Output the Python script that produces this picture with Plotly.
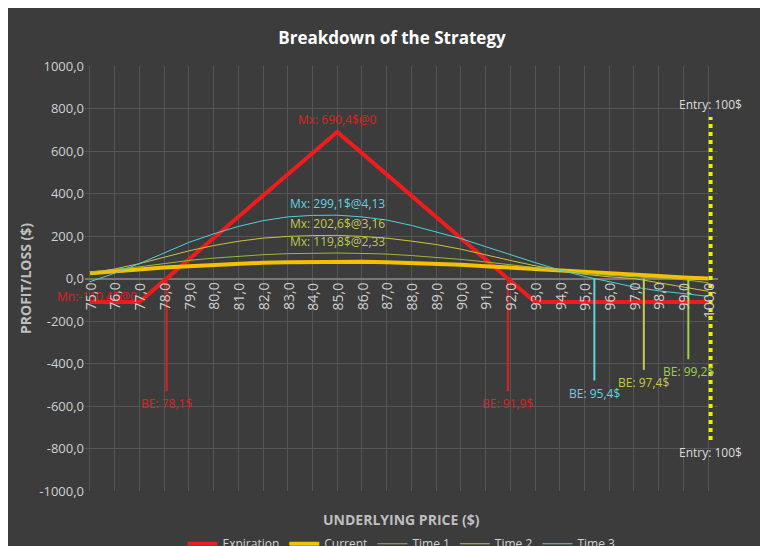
import plotly.graph_objects as go

prices = list(range(75, 101))
expiration = [-110, -110, -110, -10, 90, 190, 290, 390, 490, 590, 690, 590, 490, 390, 290, 190, 90, -10,
              -110, -110, -110, -110, -110, -110, -110, -110]
current = [25, 35, 45, 52, 58, 64, 70, 74, 77, 79, 80, 79, 77, 74, 70, 65, 58, 52, 45, 38, 32, 25, 18, 12, 5, 0]
time1 = [30, 42, 55, 70, 85, 96, 105, 112, 117, 119, 120, 118, 115, 108, 100, 90, 78, 65, 50, 38, 25, 15, 8, 2, -5, -20]
time2 = [25, 45, 70, 100, 130, 155, 175, 190, 198, 202, 203, 198, 190, 176, 160, 138, 110, 85, 60, 40, 20, 8, 0, -20, -40, -60]
time3 = [-15, 25, 70, 120, 170, 210, 245, 272, 290, 297, 298, 290, 275, 250, 220, 188, 150, 112, 75, 40, 10, -15, -40, -58, -72, -84]

be_x = [78.1, 91.9, 95.4, 97.4, 99.2]
be_low = [-530, -530, -480, -430, -380]
be_color = ['#e02020', '#e02020', '#5fd4e0', '#c8c850', '#9ad24a']
be_text = ['BE: 78,1$', 'BE: 91,9$', 'BE: 95,4$', 'BE: 97,4$', 'BE: 99,2$']

y_ticks = [-1000, -800, -600, -400, -200, 0, 200, 400, 600, 800, 1000]

fig = go.Figure()
fig.add_trace(go.Scatter(x=prices, y=expiration, name='Expiration', mode='lines', line=dict(color='#ee1c1c', width=4)))
fig.add_trace(go.Scatter(x=prices, y=current, name='Current', mode='lines', line=dict(color='#f5c000', width=4)))
fig.add_trace(go.Scatter(x=prices, y=time1, name='Time 1', mode='lines', line=dict(color='#9ab83a', width=1)))
fig.add_trace(go.Scatter(x=prices, y=time2, name='Time 2', mode='lines', line=dict(color='#c8c43a', width=1)))
fig.add_trace(go.Scatter(x=prices, y=time3, name='Time 3', mode='lines', line=dict(color='#4fd0d8', width=1)))

for x, low, c, t in zip(be_x, be_low, be_color, be_text):
    fig.add_trace(go.Scatter(x=[x, x], y=[0, low], mode='lines', line=dict(color=c, width=2),
                             showlegend=False, hoverinfo='skip'))
    fig.add_annotation(x=x, y=low - 10, text=t, showarrow=False, yanchor='top',
                       font=dict(color=c, size=12))

fig.add_trace(go.Scatter(x=[100.1, 100.1], y=[-760, 760], mode='lines',
                         line=dict(color='#f0f000', width=4, dash='dot'), showlegend=False, hoverinfo='skip'))
fig.add_annotation(x=100.1, y=770, text='Entry: 100$', showarrow=False, yanchor='bottom', font=dict(color='#dddddd', size=12))
fig.add_annotation(x=100.1, y=-770, text='Entry: 100$', showarrow=False, yanchor='top', font=dict(color='#dddddd', size=12))

fig.add_annotation(x=85, y=700, text='Mx: 690,4$@0', showarrow=False, yanchor='bottom', font=dict(color='#e02020', size=12))
fig.add_annotation(x=85, y=305, text='Mx: 299,1$@4,13', showarrow=False, yanchor='bottom', font=dict(color='#5fd4e0', size=12))
fig.add_annotation(x=85, y=208, text='Mx: 202,6$@3,16', showarrow=False, yanchor='bottom', font=dict(color='#c8c850', size=12))
fig.add_annotation(x=85, y=125, text='Mx: 119,8$@2,33', showarrow=False, yanchor='bottom', font=dict(color='#b8c850', size=12))
fig.add_annotation(x=77, y=-85, text='Mn:-110,4$@0', showarrow=False, xanchor='right', font=dict(color='#e02020', size=12))
fig.add_annotation(x=100.6, y=-60, text='Mn:-84,4$@0,29', showarrow=False, xanchor='right', yanchor='bottom', font=dict(color='#5fd4e0', size=12))
fig.add_annotation(x=100.6, y=-100, text='Mn:-61,4$@0,04', showarrow=False, xanchor='right', font=dict(color='#c8c850', size=12))

for p in prices:
    fig.add_annotation(x=p, y=-8, text=f'{p},0', showarrow=False, textangle=-90, yanchor='top',
                       font=dict(color='#d0d0d0', size=14))

fig.add_annotation(x=0.5, y=-0.04, xref='paper', yref='paper', text='<b>UNDERLYING PRICE ($)</b>', showarrow=False,
                   yanchor='top', font=dict(color='#bfbfbf', size=14))

fig.update_layout(
    width=768, height=546,
    title=dict(text='<b>Breakdown of the Strategy</b>', x=0.5, y=0.955, font=dict(color='white', size=17)),
    paper_bgcolor='#3c3c3c', plot_bgcolor='#3c3c3c',
    font=dict(family='Open Sans', color='#d0d0d0'),
    margin=dict(l=77, r=58, t=58, b=63, autoexpand=False),
    xaxis=dict(range=[74.8, 100.4], showticklabels=False, showgrid=True, gridcolor='#555555',
               tickvals=prices, zeroline=False, automargin=False),
    yaxis=dict(range=[-1000, 1000], tickvals=y_ticks, ticktext=[f'{v},0' for v in y_ticks],
               gridcolor='#555555', zeroline=True, zerolinecolor='#777777', automargin=False,
               title=dict(text='<b>PROFIT/LOSS ($)</b>', font=dict(color='#bfbfbf', size=14), standoff=4),
               tickfont=dict(size=13)),
    legend=dict(orientation='h', x=0.5, xanchor='center', y=-0.09, yanchor='top', font=dict(size=12, color='#d0d0d0')),
    showlegend=True,
)

fig.write_html('out.html')
